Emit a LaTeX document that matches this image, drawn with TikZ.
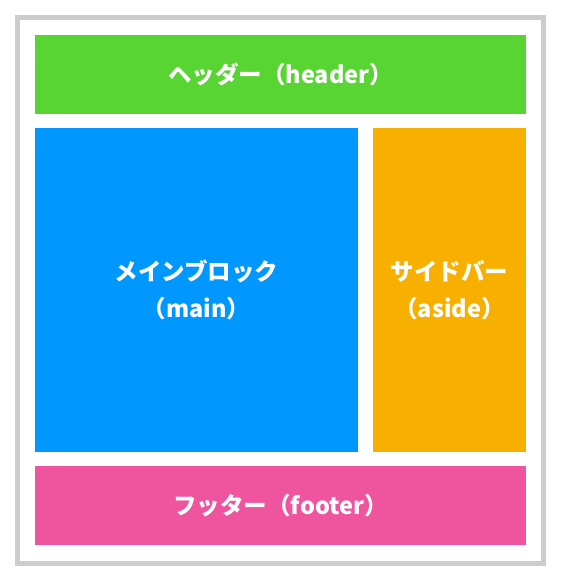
\documentclass[tikz,border=0pt]{standalone}
\usepackage{fontspec}
\newfontfamily\jp{Noto Sans CJK JP}
\definecolor{framegray}{HTML}{CCCCCC}
\definecolor{hdrgreen}{HTML}{58D533}
\definecolor{mainblue}{HTML}{0098FF}
\definecolor{asideorange}{HTML}{F8B000}
\definecolor{footpink}{HTML}{EE559E}
\tikzset{
  block/.style={inner sep=0pt, text=white, align=center,
    font=\jp\bfseries\fontsize{23.5}{37}\selectfont},
  pageframe/.style={draw=framegray, line width=5pt, inner sep=0pt}
}
\begin{document}
\begin{tikzpicture}[x=1pt,y=-1pt]
\useasboundingbox (0,0) rectangle (564,584);
\fill[white] (0,0) rectangle (564,584);
\node[pageframe, minimum width=526pt, minimum height=546pt] (page) at (280.5,290.5) {};
\node[block, fill=hdrgreen, minimum width=491pt, minimum height=79pt] (header) at (280.5,74.5) {ヘッダー（header）};
\node[block, fill=mainblue, minimum width=323pt, minimum height=324pt] (main) at (196.5,290) {メインブロック\\（main）};
\node[block, fill=asideorange, minimum width=153pt, minimum height=324pt] (aside) at (449.5,290) {サイドバー\\（aside）};
\node[block, fill=footpink, minimum width=491pt, minimum height=79pt] (footer) at (280.5,505.5) {フッター（footer）};
\end{tikzpicture}
\end{document}
